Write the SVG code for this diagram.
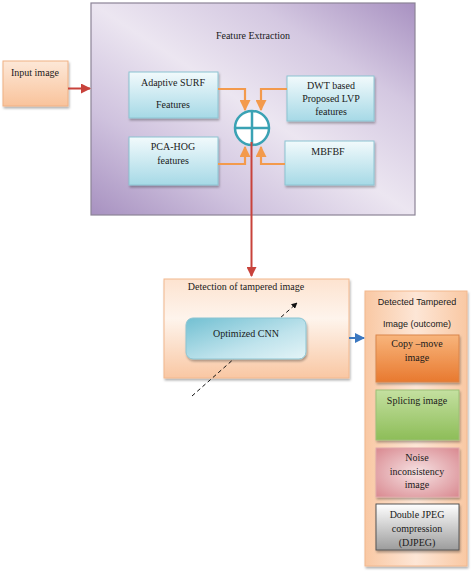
<svg xmlns="http://www.w3.org/2000/svg" width="474" height="571" viewBox="0 0 474 571">
<defs>
<linearGradient id="gPurple" x1="0" y1="1" x2="1" y2="0">
<stop offset="0" stop-color="#a791c0"/>
<stop offset="0.25" stop-color="#cfc2de"/>
<stop offset="0.5" stop-color="#ece6f1"/>
<stop offset="0.75" stop-color="#d4c8e1"/>
<stop offset="1" stop-color="#a891c1"/>
</linearGradient>
<linearGradient id="gBlue" x1="0" y1="0" x2="0" y2="1">
<stop offset="0" stop-color="#f2fafc"/>
<stop offset="1" stop-color="#a6d9e6"/>
</linearGradient>
<linearGradient id="gPeach" x1="0" y1="0" x2="0" y2="1">
<stop offset="0" stop-color="#fde8d8"/>
<stop offset="1" stop-color="#f9c39b"/>
</linearGradient>
<linearGradient id="gDet" x1="0" y1="0" x2="0" y2="1">
<stop offset="0" stop-color="#fde3d0"/>
<stop offset="0.4" stop-color="#fef4ec"/>
<stop offset="1" stop-color="#f9c7a3"/>
</linearGradient>
<linearGradient id="gOut" x1="0" y1="0" x2="1" y2="0">
<stop offset="0" stop-color="#f9c8a3"/>
<stop offset="0.5" stop-color="#fde6d6"/>
<stop offset="1" stop-color="#f9c8a3"/>
</linearGradient>
<linearGradient id="gCnn" x1="0" y1="0" x2="1" y2="1">
<stop offset="0" stop-color="#72c0d2"/>
<stop offset="0.6" stop-color="#bfe3ec"/>
<stop offset="1" stop-color="#e4f4f7"/>
</linearGradient>
<linearGradient id="gOrange" x1="0" y1="0" x2="0" y2="1">
<stop offset="0" stop-color="#f8b57c"/>
<stop offset="1" stop-color="#e8792f"/>
</linearGradient>
<linearGradient id="gGreen" x1="0" y1="0" x2="0" y2="1">
<stop offset="0" stop-color="#c4e0a0"/>
<stop offset="1" stop-color="#8dbd58"/>
</linearGradient>
<radialGradient id="gPink" cx="0.5" cy="0.5" r="0.7">
<stop offset="0" stop-color="#f6e2e3"/>
<stop offset="1" stop-color="#d98990"/>
</radialGradient>
<linearGradient id="gGray" x1="0" y1="0" x2="0" y2="1">
<stop offset="0" stop-color="#ffffff"/>
<stop offset="1" stop-color="#9c9c9c"/>
</linearGradient>
<filter id="sh" x="-10%" y="-10%" width="125%" height="130%">
<feDropShadow dx="1" dy="2" stdDeviation="1.2" flood-color="#000" flood-opacity="0.3"/>
</filter>
<marker id="aRed" viewBox="0 0 10 10" refX="9" refY="5" markerWidth="5" markerHeight="5" orient="auto"><path d="M0,0 L10,5 L0,10 z" fill="#c8423b"/></marker>
<marker id="aOr" viewBox="0 0 10 10" refX="9" refY="5" markerWidth="5" markerHeight="5" orient="auto"><path d="M0,0 L10,5 L0,10 z" fill="#f39a4c"/></marker>
<marker id="aBlue" viewBox="0 0 10 10" refX="9" refY="5" markerWidth="5" markerHeight="5" orient="auto"><path d="M0,0 L10,5 L0,10 z" fill="#3b78c0"/></marker>
<marker id="aBlk" viewBox="0 0 10 10" refX="9" refY="5" markerWidth="6" markerHeight="6" orient="auto"><path d="M0,0 L10,5 L0,10 z" fill="#111"/></marker>
</defs>
<style>
.t{font-family:"Liberation Serif","Times New Roman",serif;font-size:10px;fill:#1a1a1a;text-anchor:middle}
.s{font-family:"Liberation Sans",Arial,sans-serif;font-size:9px;fill:#1a1a1a;text-anchor:middle}
.fb{fill:url(#gBlue);stroke:#8cc4d2;stroke-width:1;filter:url(#sh)}
.or{fill:none;stroke:#f39a4c;stroke-width:2.2;marker-end:url(#aOr)}
</style>

<g id="feature-extraction">
<rect x="91" y="3" width="324" height="212" fill="url(#gPurple)" stroke="#8c8497" stroke-width="1.2"/>
<text class="t" x="253" y="39">Feature Extraction</text>
</g>

<g id="input-image">
<rect x="3" y="61" width="65" height="45" fill="url(#gPeach)" stroke="#f0b184" stroke-width="1" filter="url(#sh)"/>
<text class="t" x="35" y="76">Input image</text>
</g>

<g id="adaptive-surf">
<rect class="fb" x="129" y="72" width="89" height="46"/>
<text class="t" x="173" y="86">Adaptive SURF</text>
<text class="t" x="173" y="108">Features</text>
</g>

<g id="dwt-lvp">
<rect class="fb" x="287" y="76" width="87" height="45"/>
<text class="t" x="331" y="89">DWT based</text>
<text class="t" x="331" y="102">Proposed LVP</text>
<text class="t" x="331" y="115">features</text>
</g>

<g id="pca-hog">
<rect class="fb" x="129" y="137" width="89" height="48"/>
<text class="t" x="173" y="150">PCA-HOG</text>
<text class="t" x="173" y="164">features</text>
</g>

<g id="mbfbf">
<rect class="fb" x="285" y="141" width="89" height="44"/>
<text class="t" x="328" y="155">MBFBF</text>
</g>

<g id="sum">
<circle cx="252" cy="128" r="17" fill="#ffffff" stroke="#3aa2b4" stroke-width="2.5"/>
<line x1="235" y1="128" x2="269" y2="128" stroke="#3aa2b4" stroke-width="2.5"/>
<line x1="252" y1="111" x2="252" y2="145" stroke="#3aa2b4" stroke-width="2.5"/>
</g>

<g id="detection">
<rect x="164" y="279" width="185" height="99" fill="url(#gDet)" stroke="#f2b88e" stroke-width="1" filter="url(#sh)"/>
<text class="t" x="246" y="290">Detection of tampered image</text>
</g>

<g id="detected-outcome">
<rect x="365" y="291" width="102" height="275" fill="url(#gOut)" stroke="#f2b88e" stroke-width="1" filter="url(#sh)"/>
<text class="s" x="417" y="305">Detected Tampered</text>
<text class="s" x="417" y="327">Image (outcome)</text>
</g>

<g id="copy-move">
<rect x="376" y="335" width="83" height="47" fill="url(#gOrange)" stroke="#d9854a" stroke-width="1" filter="url(#sh)"/>
<text class="t" x="417" y="347">Copy –move</text>
<text class="t" x="417" y="361">image</text>
</g>

<g id="splicing">
<rect x="376" y="390" width="83" height="50" fill="url(#gGreen)" stroke="#9cbf76" stroke-width="1" filter="url(#sh)"/>
<text class="t" x="417" y="404">Splicing image</text>
</g>

<g id="noise">
<rect x="376" y="448" width="83" height="49" fill="url(#gPink)" stroke="#e0a8ab" stroke-width="1" filter="url(#sh)"/>
<text class="t" x="417" y="461">Noise</text>
<text class="t" x="417" y="475">inconsistency</text>
<text class="t" x="417" y="488">image</text>
</g>

<g id="djpeg">
<rect x="376" y="504" width="83" height="46" fill="url(#gGray)" stroke="#555" stroke-width="1" filter="url(#sh)"/>
<text class="t" x="417" y="518">Double JPEG</text>
<text class="t" x="417" y="532">compression</text>
<text class="t" x="417" y="546">(DJPEG)</text>
</g>

<g id="connectors">
<line x1="68" y1="88.5" x2="90" y2="88.5" stroke="#c8423b" stroke-width="2" marker-end="url(#aRed)"/>
<polyline class="or" points="218,89 245,89 245,110"/>
<polyline class="or" points="287,89 261,89 261,110"/>
<polyline class="or" points="218,164 245,164 245,147"/>
<polyline class="or" points="285,164 261,164 261,147"/>
<line x1="251.5" y1="142" x2="251.5" y2="276" stroke="#c8423b" stroke-width="2" marker-end="url(#aRed)"/>
<line x1="349" y1="338" x2="364" y2="338" stroke="#3b78c0" stroke-width="2" marker-end="url(#aBlue)"/>
<line x1="192" y1="396" x2="297" y2="303" stroke="#111" stroke-width="1" stroke-dasharray="4,3" marker-end="url(#aBlk)"/>
</g>

<g id="optimized-cnn">
<rect x="186" y="318" width="120" height="41" rx="7" fill="url(#gCnn)" stroke="#8cc4d2" stroke-width="1" filter="url(#sh)"/>
<text class="t" x="246" y="337">Optimized CNN</text>
</g>
</svg>
